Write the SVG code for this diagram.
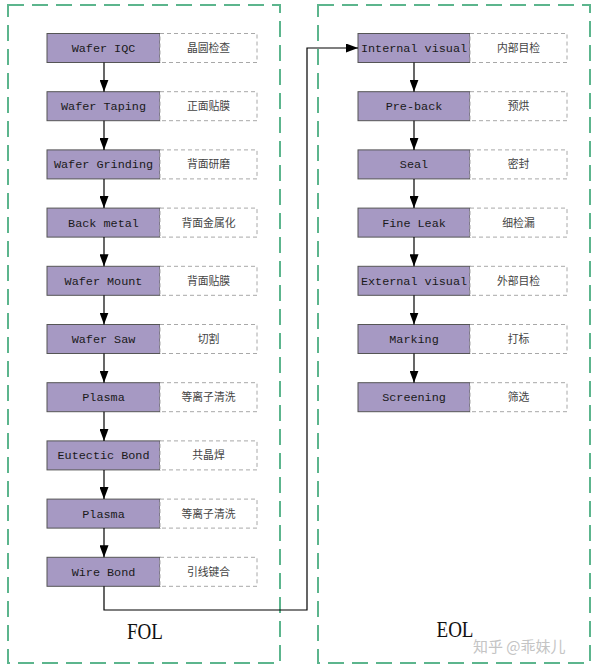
<svg xmlns="http://www.w3.org/2000/svg" width="600" height="670" viewBox="0 0 600 670">
<defs>
<marker id="av" viewBox="0 0 12 9" markerWidth="12" markerHeight="9" refX="12" refY="4.5" orient="auto" markerUnits="userSpaceOnUse"><path d="M0,0 L12,4.5 L0,9 Z" fill="#000"/></marker>
<style>
.frame{fill:none;stroke:#5cb58d;stroke-width:2;stroke-dasharray:16 8}
.p{fill:#a699c3;stroke:#555;stroke-width:1}
.d{fill:#fff;stroke:#a8a8a8;stroke-width:1;stroke-dasharray:4 3}
.t{font-family:"Liberation Mono",monospace;font-size:11.8px;fill:#1a1a1a;text-anchor:middle}
.c{font-family:"Noto Sans CJK SC",sans-serif;font-size:10.8px;fill:#444;text-anchor:middle}
.big{font-family:"Liberation Serif",serif;font-size:24px;fill:#111;text-anchor:middle}
.wm{font-family:"Noto Sans CJK SC",sans-serif;font-size:15px;fill:#c4c4c4}
.cn{fill:none;stroke:#000;stroke-width:1.2}
</style>
</defs>
<rect class="frame" x="8" y="5" width="272" height="658"/>
<rect class="frame" x="318" y="5" width="272" height="658"/>

<g id="fol-1"><rect class="p" x="47" y="33.5" width="113" height="29"/><rect class="d" x="160" y="33.5" width="97" height="29"/><text class="t" x="103.5" y="52">Wafer IQC</text><text class="c" x="208.5" y="52">晶圆检查</text></g>
<g id="fol-2"><rect class="p" x="47" y="91.7" width="113" height="29"/><rect class="d" x="160" y="91.7" width="97" height="29"/><text class="t" x="103.5" y="110.2">Wafer Taping</text><text class="c" x="208.5" y="110.2">正面贴膜</text></g>
<g id="fol-3"><rect class="p" x="47" y="149.9" width="113" height="29"/><rect class="d" x="160" y="149.9" width="97" height="29"/><text class="t" x="103.5" y="168.4">Wafer Grinding</text><text class="c" x="208.5" y="168.4">背面研磨</text></g>
<g id="fol-4"><rect class="p" x="47" y="208.1" width="113" height="29"/><rect class="d" x="160" y="208.1" width="97" height="29"/><text class="t" x="103.5" y="226.6">Back metal</text><text class="c" x="208.5" y="226.6">背面金属化</text></g>
<g id="fol-5"><rect class="p" x="47" y="266.3" width="113" height="29"/><rect class="d" x="160" y="266.3" width="97" height="29"/><text class="t" x="103.5" y="284.8">Wafer Mount</text><text class="c" x="208.5" y="284.8">背面贴膜</text></g>
<g id="fol-6"><rect class="p" x="47" y="324.5" width="113" height="29"/><rect class="d" x="160" y="324.5" width="97" height="29"/><text class="t" x="103.5" y="343">Wafer Saw</text><text class="c" x="208.5" y="343">切割</text></g>
<g id="fol-7"><rect class="p" x="47" y="382.7" width="113" height="29"/><rect class="d" x="160" y="382.7" width="97" height="29"/><text class="t" x="103.5" y="401.2">Plasma</text><text class="c" x="208.5" y="401.2">等离子清洗</text></g>
<g id="fol-8"><rect class="p" x="47" y="440.9" width="113" height="29"/><rect class="d" x="160" y="440.9" width="97" height="29"/><text class="t" x="103.5" y="459.4">Eutectic Bond</text><text class="c" x="208.5" y="459.4">共晶焊</text></g>
<g id="fol-9"><rect class="p" x="47" y="499.1" width="113" height="29"/><rect class="d" x="160" y="499.1" width="97" height="29"/><text class="t" x="103.5" y="517.6">Plasma</text><text class="c" x="208.5" y="517.6">等离子清洗</text></g>
<g id="fol-10"><rect class="p" x="47" y="557.3" width="113" height="29"/><rect class="d" x="160" y="557.3" width="97" height="29"/><text class="t" x="103.5" y="575.8">Wire Bond</text><text class="c" x="208.5" y="575.8">引线键合</text></g>

<g id="eol-1"><rect class="p" x="358" y="33.5" width="112" height="29"/><rect class="d" x="470" y="33.5" width="97" height="29"/><text class="t" x="414" y="52">Internal visual</text><text class="c" x="518.5" y="52">内部目检</text></g>
<g id="eol-2"><rect class="p" x="358" y="91.7" width="112" height="29"/><rect class="d" x="470" y="91.7" width="97" height="29"/><text class="t" x="414" y="110.2">Pre-back</text><text class="c" x="518.5" y="110.2">预烘</text></g>
<g id="eol-3"><rect class="p" x="358" y="149.9" width="112" height="29"/><rect class="d" x="470" y="149.9" width="97" height="29"/><text class="t" x="414" y="168.4">Seal</text><text class="c" x="518.5" y="168.4">密封</text></g>
<g id="eol-4"><rect class="p" x="358" y="208.1" width="112" height="29"/><rect class="d" x="470" y="208.1" width="97" height="29"/><text class="t" x="414" y="226.6">Fine Leak</text><text class="c" x="518.5" y="226.6">细检漏</text></g>
<g id="eol-5"><rect class="p" x="358" y="266.3" width="112" height="29"/><rect class="d" x="470" y="266.3" width="97" height="29"/><text class="t" x="414" y="284.8">External visual</text><text class="c" x="518.5" y="284.8">外部目检</text></g>
<g id="eol-6"><rect class="p" x="358" y="324.5" width="112" height="29"/><rect class="d" x="470" y="324.5" width="97" height="29"/><text class="t" x="414" y="343">Marking</text><text class="c" x="518.5" y="343">打标</text></g>
<g id="eol-7"><rect class="p" x="358" y="382.7" width="112" height="29"/><rect class="d" x="470" y="382.7" width="97" height="29"/><text class="t" x="414" y="401.2">Screening</text><text class="c" x="518.5" y="401.2">筛选</text></g>

<g id="connectors">
<line class="cn" x1="104" y1="62.5" x2="104" y2="91.7" marker-end="url(#av)"/>
<line class="cn" x1="104" y1="120.7" x2="104" y2="149.9" marker-end="url(#av)"/>
<line class="cn" x1="104" y1="178.9" x2="104" y2="208.1" marker-end="url(#av)"/>
<line class="cn" x1="104" y1="237.1" x2="104" y2="266.3" marker-end="url(#av)"/>
<line class="cn" x1="104" y1="295.3" x2="104" y2="324.5" marker-end="url(#av)"/>
<line class="cn" x1="104" y1="353.5" x2="104" y2="382.7" marker-end="url(#av)"/>
<line class="cn" x1="104" y1="411.7" x2="104" y2="440.9" marker-end="url(#av)"/>
<line class="cn" x1="104" y1="469.9" x2="104" y2="499.1" marker-end="url(#av)"/>
<line class="cn" x1="104" y1="528.1" x2="104" y2="557.3" marker-end="url(#av)"/>
<line class="cn" x1="414" y1="62.5" x2="414" y2="91.7" marker-end="url(#av)"/>
<line class="cn" x1="414" y1="120.7" x2="414" y2="149.9" marker-end="url(#av)"/>
<line class="cn" x1="414" y1="178.9" x2="414" y2="208.1" marker-end="url(#av)"/>
<line class="cn" x1="414" y1="237.1" x2="414" y2="266.3" marker-end="url(#av)"/>
<line class="cn" x1="414" y1="295.3" x2="414" y2="324.5" marker-end="url(#av)"/>
<line class="cn" x1="414" y1="353.5" x2="414" y2="382.7" marker-end="url(#av)"/>
<polyline class="cn" points="104,586.3 104,610 307,610 307,48 358,48" marker-end="url(#av)"/>
</g>

<text class="big" x="145" y="639" textLength="36" lengthAdjust="spacingAndGlyphs">FOL</text>
<text class="big" x="455" y="637" textLength="37" lengthAdjust="spacingAndGlyphs">EOL</text>
<text class="wm" x="473" y="652">知乎 @乖妹儿</text>
</svg>
